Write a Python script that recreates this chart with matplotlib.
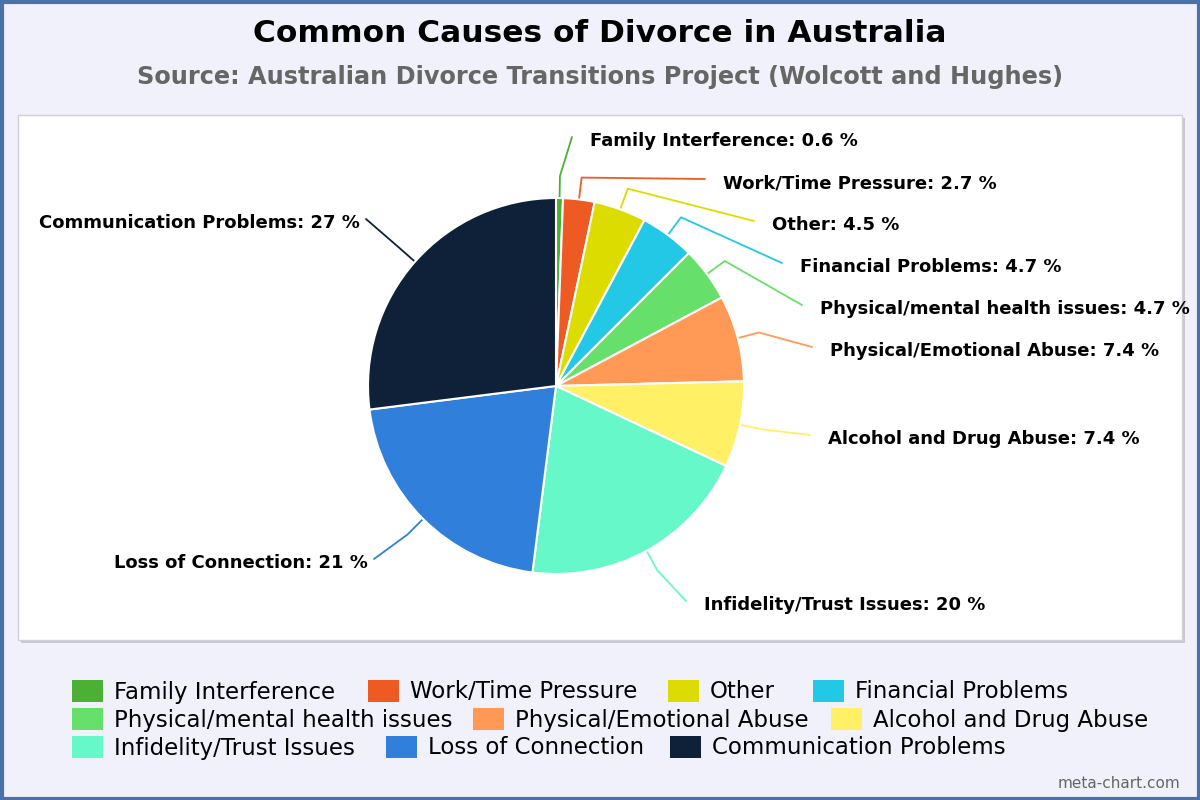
import matplotlib
matplotlib.use("Agg")
import matplotlib.pyplot as plt
import numpy as np
from matplotlib.patches import Rectangle

categories = ["Family Interference", "Work/Time Pressure", "Other", "Financial Problems",
              "Physical/mental health issues", "Physical/Emotional Abuse", "Alcohol and Drug Abuse",
              "Infidelity/Trust Issues", "Loss of Connection", "Communication Problems"]
values = [0.6, 2.7, 4.5, 4.7, 4.7, 7.4, 7.4, 20, 21, 27]
value_text = ["0.6", "2.7", "4.5", "4.7", "4.7", "7.4", "7.4", "20", "21", "27"]
colors = ["#4cb034", "#ee5a24", "#dcdc00", "#22c8e5", "#66e06a", "#ff9955", "#fff066",
          "#66f8c8", "#2f7fdb", "#0e2139"]

# label layout (pixel coords: x anchor, y, alignment)
label_pos = [(590, 141, "left"), (723, 183, "left"), (772, 225, "left"), (800, 267, "left"),
             (820, 309, "left"), (830, 351, "left"), (828, 439, "left"), (704, 605, "left"),
             (368, 563, "right"), (360, 223, "right")]
legend_pos = [(72, 691), (368, 691), (668, 691), (813, 691),
              (72, 719), (473, 719), (831, 719),
              (72, 747), (386, 747), (670, 747)]

W, H = 1200, 800
fig = plt.figure(figsize=(12, 8), dpi=100)
fig.patch.set_facecolor("#f1f1fb")
bg = fig.add_axes([0, 0, 1, 1])
bg.set_xlim(0, W); bg.set_ylim(H, 0); bg.axis("off")
bg.add_patch(Rectangle((1.5, 1.5), W - 3, H - 3, fill=False, ec="#4a72a8", lw=3))
bg.add_patch(Rectangle((21, 118), 1164, 525, fc="#c8c8d0", ec="none"))
bg.add_patch(Rectangle((18, 115), 1164, 525, fc="white", ec="#d0d0d8", lw=1))

bg.text(600, 33, "Common Causes of Divorce in Australia", ha="center", va="center",
        fontsize=22.5, fontweight="bold", color="black")
bg.text(600, 77, "Source: Australian Divorce Transitions Project (Wolcott and Hughes)",
        ha="center", va="center", fontsize=17.3, fontweight="bold", color="#666666")
bg.text(1180, 784, "meta-chart.com", ha="right", va="center", fontsize=11, color="#666666")

cx, cy, R = 556, 386, 188
pax = fig.add_axes([(cx - R) / W, (H - cy - R) / H, 2 * R / W, 2 * R / H])
pax.pie(values, colors=colors, startangle=90, counterclock=False,
        wedgeprops=dict(edgecolor="white", linewidth=1.5))
pax.set_xlim(-1, 1); pax.set_ylim(-1, 1)
pax.set_aspect("auto")

cum = np.cumsum([0] + values[:-1])
for i, v in enumerate(values):
    ang = np.deg2rad(90 - (cum[i] + v / 2) * 3.6)
    x0, y0 = cx + R * np.cos(ang), cy - R * np.sin(ang)
    x1, y1 = cx + (R + 22) * np.cos(ang), cy - (R + 22) * np.sin(ang)
    lx, ly, ha = label_pos[i]
    ex = lx - 18 if ha == "left" else lx + 6
    bg.plot([x0, x1, ex], [y0, y1, ly - 4], color=colors[i], lw=1.3, solid_capstyle="round")
    bg.text(lx, ly, f"{categories[i]}: {value_text[i]} %", ha=ha, va="center",
            fontsize=13, fontweight="bold", color="black")

for i, (x, y) in enumerate(legend_pos):
    bg.add_patch(Rectangle((x, y - 11), 31, 22, fc=colors[i], ec="none"))
    bg.text(x + 42, y + 1, categories[i], ha="left", va="center", fontsize=16.5, color="black")

fig.savefig("out.png", dpi=100, facecolor=fig.get_facecolor())
